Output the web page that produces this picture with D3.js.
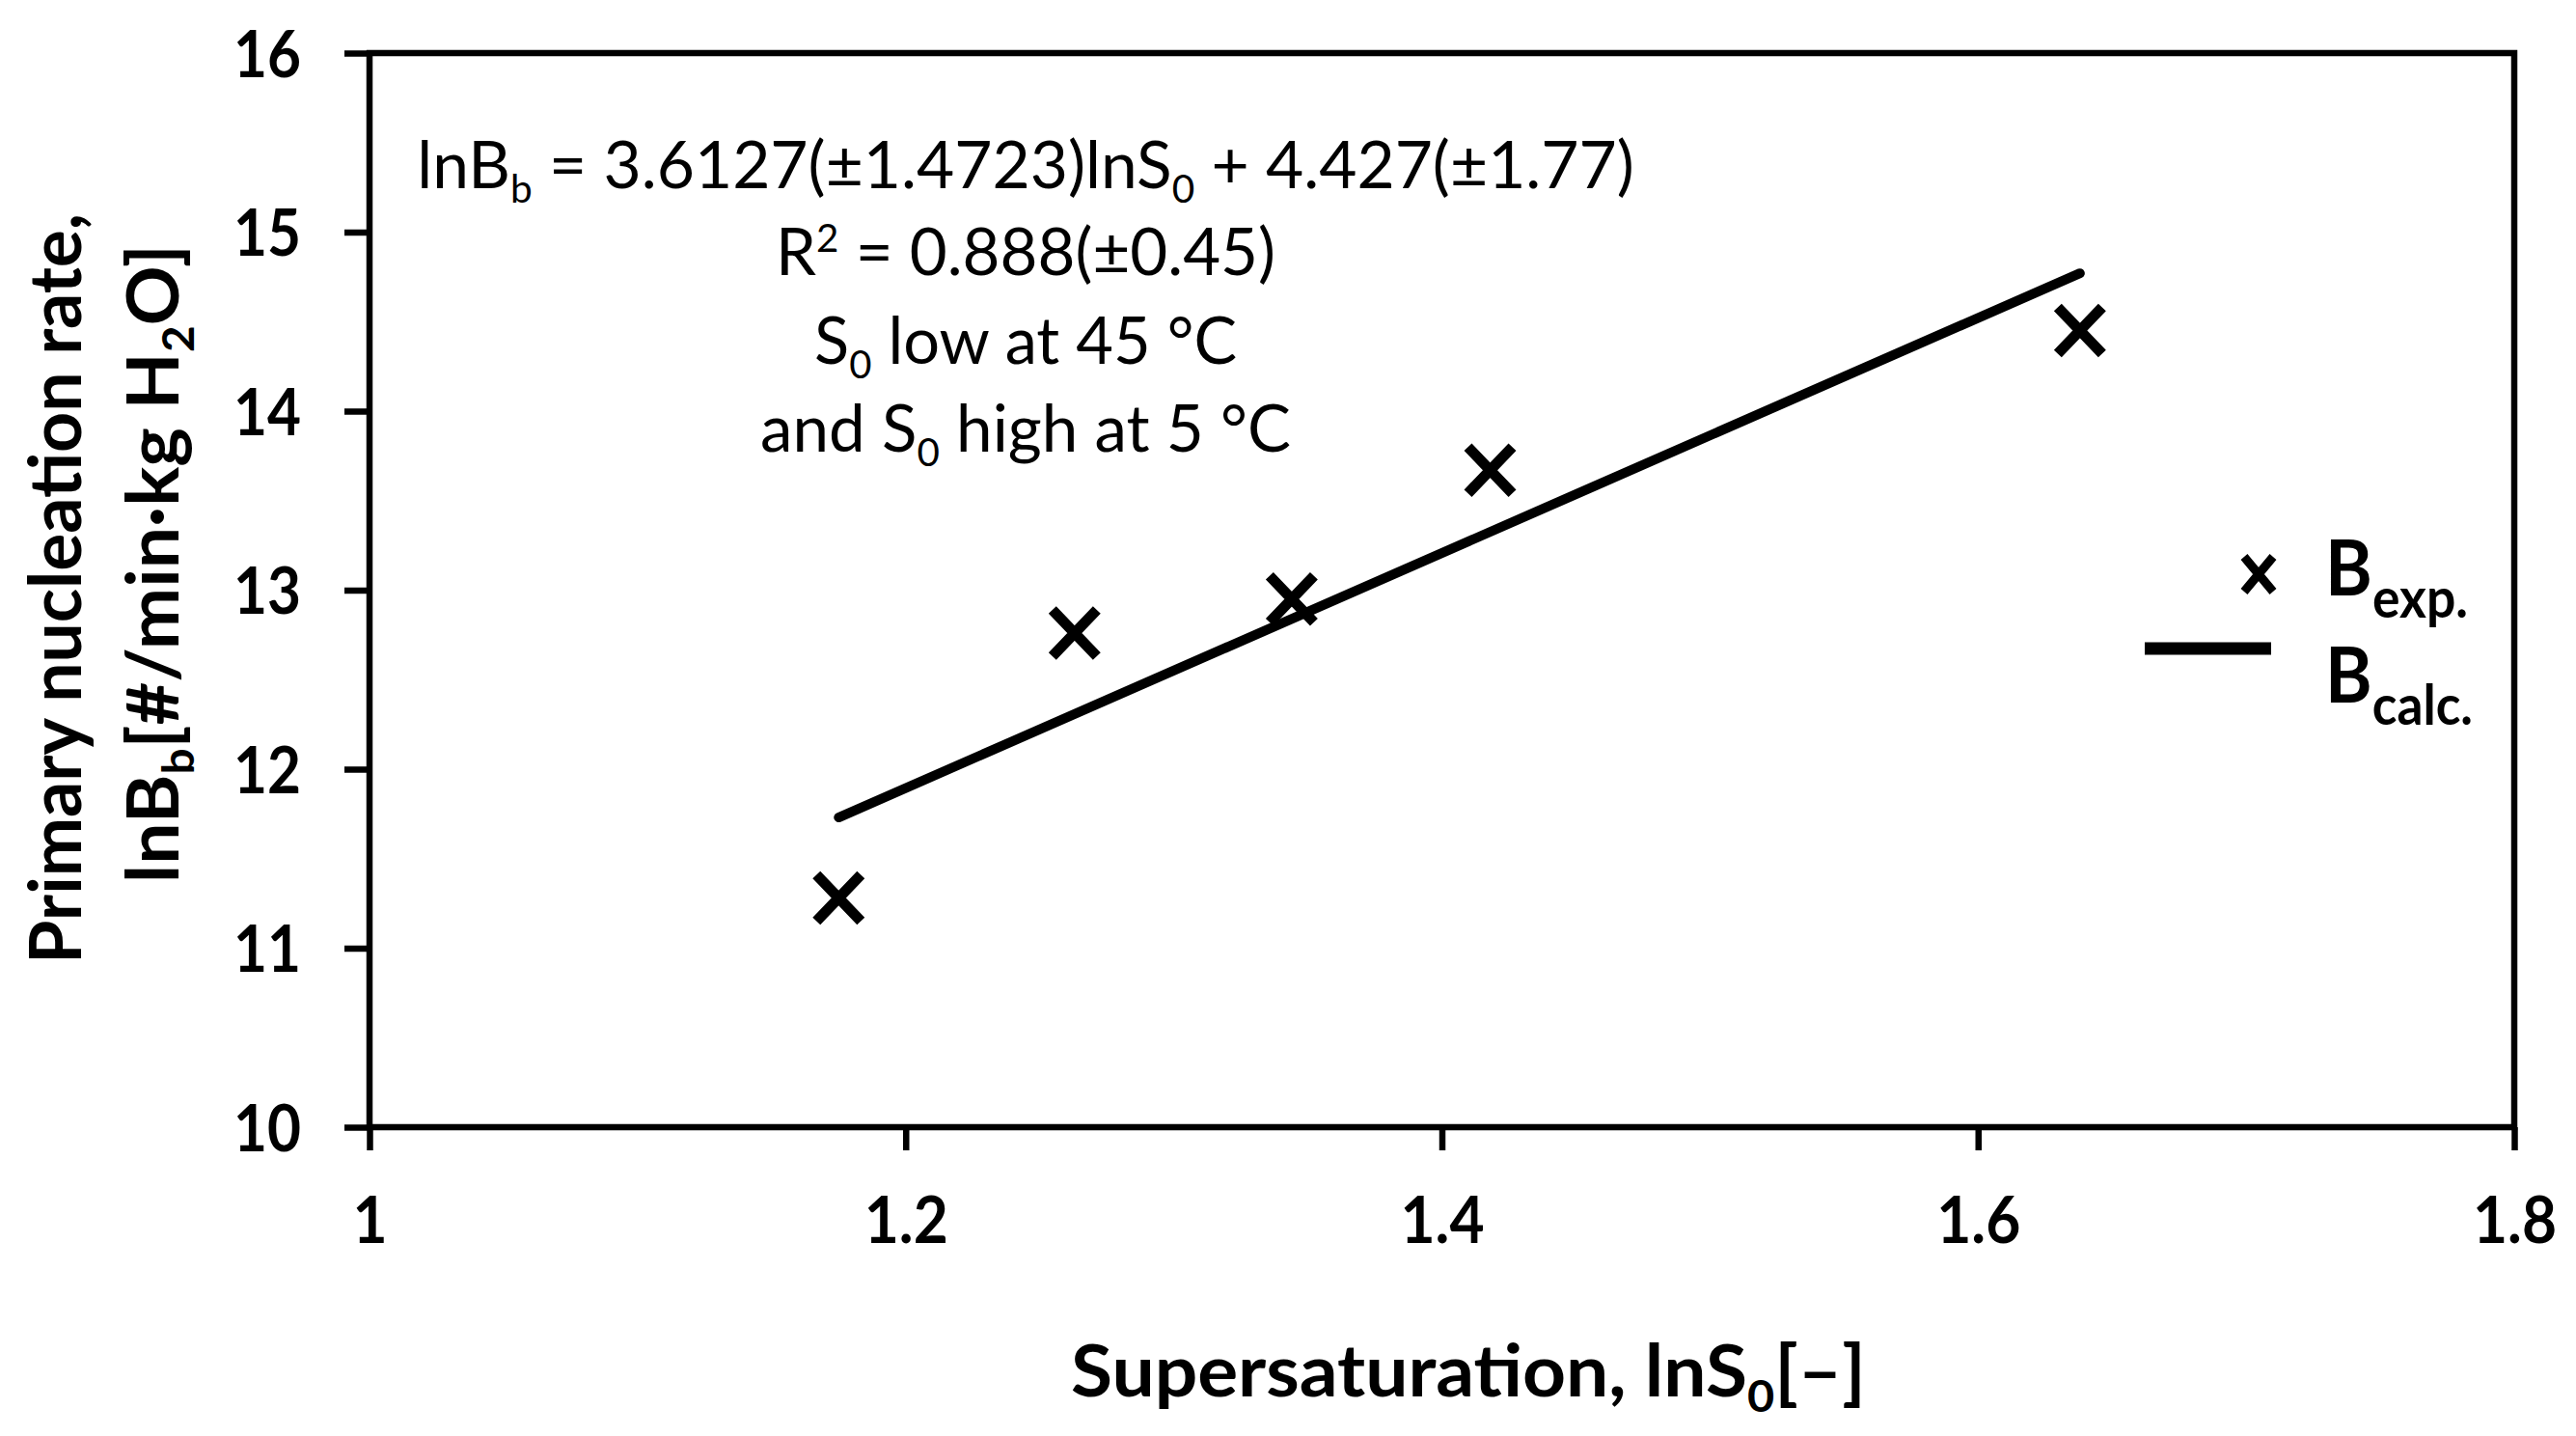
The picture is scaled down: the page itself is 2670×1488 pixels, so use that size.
<!DOCTYPE html>
<html><head><meta charset="utf-8">
<script src="https://cdn.jsdelivr.net/npm/d3@7"></script>
<style>
body{margin:0;background:#fff}
svg{display:block}
text{font-family:Lato,'Open Sans',sans-serif;fill:#000;white-space:pre}
</style>
</head><body>
<svg id="c" width="2670" height="1488"></svg>
<script>
// ---- data ----
const expX = [1.175, 1.263, 1.344, 1.418, 1.638];
const expY = [11.28, 12.76, 12.95, 13.67, 14.45];
const calcX = [1.175, 1.638];
const calcY = [11.73, 14.77];
const xTicks = [1, 1.2, 1.4, 1.6, 1.8];
const xTickLabels = ["1", "1.2", "1.4", "1.6", "1.8"];
const yTicks = [10, 11, 12, 13, 14, 15, 16];
const yTickLabels = ["10", "11", "12", "13", "14", "15", "16"];
const xTitle = [["Supersaturation, lnS", null], ["0", "sub"], ["[\u2013]", null]];
const yTitle1 = [["Primary nucleation rate,", null]];
const yTitle2 = [["lnB", null], ["b", "sub"], ["[#/min\u00B7kg H", null], ["2", "sub"], ["O]", null]];
const note = [
  [["lnB", null], ["b", "sub"], [" = 3.6127(\u00B11.4723)lnS", null], ["0", "sub"], [" + 4.427(\u00B11.77)", null]],
  [["R", null], ["2", "sup"], [" = 0.888(\u00B10.45)", null]],
  [["S", null], ["0", "sub"], [" low at 45 \u00B0C", null]],
  [["and S", null], ["0", "sub"], [" high at 5 \u00B0C", null]]
];
const legendExp = [["B", null], ["exp.", "sub"]];
const legendCalc = [["B", null], ["calc.", "sub"]];

// ---- layout ----
const svg = d3.select("#c");
const L = 383, R = 2606, T = 55, B = 1168;
const x = d3.scaleLinear().domain([1, 1.8]).range([L, R]);
const y = d3.scaleLinear().domain([10, 16]).range([B, T]);
const AX = 6.5;

function rich(g, parts, fs, subScale, subShift, weight) {
  const t = g.append("text").attr("font-size", fs).attr("font-weight", weight || "normal");
  let cur = 0;
  parts.forEach(([s, k]) => {
    const ts = t.append("tspan").text(s);
    const off = k === "sub" ? subShift * fs : k === "sup" ? -0.36 * fs : 0;
    if (k) ts.attr("font-size", fs * subScale);
    ts.attr("dy", off - cur);
    cur = off;
  });
  return t;
}
function place(t, ax, ay, rot, target, anchor) {
  t.attr("x", 0).attr("y", 0).attr("text-anchor", anchor || "start");
  const w = t.node().getBBox().width;
  const s = target ? target / w : 1;
  t.attr("transform", `translate(${ax},${ay})${rot ? ` rotate(${rot})` : ""} scale(${s},1)`);
}

// frame
svg.append("rect").attr("x", L).attr("y", T).attr("width", R - L).attr("height", B - T)
  .attr("fill", "none").attr("stroke", "#000").attr("stroke-width", AX);

// axes
const gx = svg.append("g").attr("transform", `translate(0,${B})`)
  .call(d3.axisBottom(x).tickValues(xTicks).tickFormat((d, i) => xTickLabels[i]).tickSize(24).tickSizeOuter(0));
const gy = svg.append("g").attr("transform", `translate(${L},0)`)
  .call(d3.axisLeft(y).tickValues(yTicks).tickFormat((d, i) => yTickLabels[i]).tickSize(26).tickSizeOuter(0));
[gx, gy].forEach(g => {
  g.select(".domain").remove();
  g.selectAll(".tick line").attr("stroke", "#000").attr("stroke-width", AX);
  g.selectAll(".tick text").attr("font-size", 67).attr("font-weight", "bold")
    .attr("font-family", null).attr("fill", "#000").attr("dy", null);
});
gx.selectAll(".tick text").each(function () {
  const t = d3.select(this);
  const w0 = gx.selectAll(".tick text").filter((d, i) => i === 1).node().getBBox().width;
  t.attr("x", 0).attr("y", 0).attr("text-anchor", "middle")
    .attr("transform", `translate(0,120) scale(${87 / w0},1)`);
});
gy.selectAll(".tick text").each(function () {
  const t = d3.select(this);
  const w0 = gy.selectAll(".tick text").filter((d, i) => i === 6).node().getBBox().width;
  t.attr("x", 0).attr("y", 0).attr("text-anchor", "end")
    .attr("transform", `translate(${312 - L},24) scale(${70 / w0},1)`);
});

// axis titles
place(rich(svg, xTitle, 74, 0.62, 0.22, "bold"), 1522, 1447, 0, 824, "middle");
place(rich(svg, yTitle1, 74, 0.62, 0.22, "bold"), 84, 610, -90, 778, "middle");
place(rich(svg, yTitle2, 74, 0.62, 0.22, "bold"), 185, 584, -90, 662, "middle");

// annotation
const noteBase = [195, 285, 377, 468];
const noteW = [1262, 518, 438, 550];
note.forEach((p, i) => place(rich(svg, p, 67, 0.6, 0.22, "normal"), 1063, noteBase[i], 0, noteW[i], "middle"));

// calc line
svg.append("path").datum(calcX.map((v, i) => [v, calcY[i]]))
  .attr("d", d3.line().x(d => x(d[0])).y(d => y(d[1])))
  .attr("fill", "none").attr("stroke", "#000").attr("stroke-width", 10).attr("stroke-linecap", "round");

// exp markers
const xMark = (h, w) => `M${-w},${-h}L${w},${h}M${w},${-h}L${-w},${h}`;
svg.append("g").selectAll("path").data(expX.map((v, i) => [v, expY[i]])).join("path")
  .attr("transform", d => `translate(${x(d[0])},${y(d[1])})`)
  .attr("d", xMark(24, 23)).attr("fill", "none").attr("stroke", "#000").attr("stroke-width", 11);

// legend
svg.append("path").attr("transform", "translate(2341,595)").attr("d", xMark(18, 15))
  .attr("fill", "none").attr("stroke", "#000").attr("stroke-width", 9);
svg.append("line").attr("x1", 2223).attr("x2", 2354).attr("y1", 672).attr("y2", 672)
  .attr("stroke", "#000").attr("stroke-width", 13);
place(rich(svg, legendExp, 80, 0.72, 0.29, "bold"), 2410, 617, 0, 148, "start");
place(rich(svg, legendCalc, 80, 0.72, 0.29, "bold"), 2410, 728, 0, 153, "start");
</script>
</body></html>
